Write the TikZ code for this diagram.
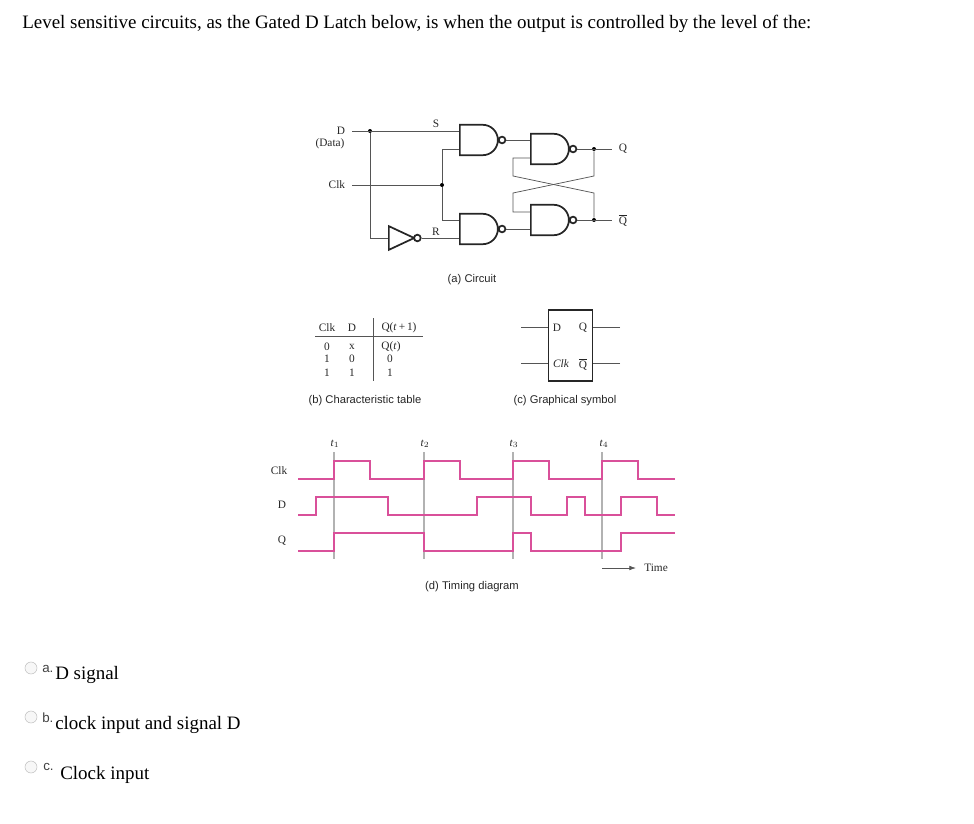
\documentclass[tikz,border=0pt]{standalone}
\usepackage{fontspec}
\setmainfont{Liberation Serif}
\setsansfont{Liberation Sans}
\usetikzlibrary{shapes.gates.logic.US,arrows.meta}
\definecolor{wave}{HTML}{D9509A}
\definecolor{wiregray}{HTML}{555555}
\begin{document}
\begin{tikzpicture}[
	x=0.75pt, y=-0.75pt,
	every node/.style={inner sep=0pt, black},
	question/.style={font=\fontsize{14.22pt}{16pt}\selectfont, anchor=west},
	letter/.style={font=\sffamily\fontsize{10pt}{12pt}\selectfont, text=black!75, anchor=west},
	radio/.style={draw=black!25, fill=black!3, circle, minimum size=9pt},
	label/.style={font=\fontsize{8.5pt}{10pt}\selectfont, text=black!85},
	caption/.style={font=\sffamily\fontsize{8.4pt}{10pt}\selectfont, text=black!85},
	nand/.style={nand gate US, anchor=west, draw=black!85, line width=1.3pt, logic gate inputs=nn,
				 logic gate input sep=6.8pt, minimum width=23pt, minimum height=20.5pt,
				 logic gate inverted radius=2.5pt},
	inv/.style={not gate US, anchor=west, draw=black!85, line width=1.3pt, minimum width=8pt, minimum height=10pt,
				logic gate input sep=2.5pt, logic gate inverted radius=2.5pt},
	wire/.style={draw=wiregray, line width=0.55pt},
	joint/.style={circle, fill=black, minimum size=3pt},
	tline/.style={draw=black!30, line width=1pt},
	pulse/.style={draw=wave, line width=1pt}
]
	\useasboundingbox (0,0) rectangle (974,824);

	\node (title) [question] at (22,24) {Level sensitive circuits, as the Gated D Latch below, is when the output is controlled by the level of the:};

	% circuit
	\node (g1) [nand] at (459,140) {};
	\node (g2) [nand] at (530,149) {};
	\node (g3) [nand] at (530,220) {};
	\node (g4) [nand] at (459,229) {};
	\node (not) [inv] at (388,238) {};
	\node (data) [label, anchor=east, inner xsep=5pt] at (352,131) {D};
	\node (dataword) [label] at (330,144) {(Data)};
	\node (clk) [label, anchor=east, inner xsep=5pt] at (352,185) {Clk};
	\node (s) [label] at (436,124) {S};
	\node (r) [label] at (436,232) {R};
	\node (qtext) [label] at (623,149) {Q};
	\node (qbar) [label] at (623,220) {$\overline{\mbox{Q}}$};
	\node (dd) [joint] at (370,131) {};
	\node (dc) [joint] at (442,185) {};
	\node (dq) [joint] at (594,149) {};
	\node (dqb) [joint] at (594,220) {};
	\coordinate (g1a) at (459,131);
	\coordinate (g1b) at (459,149);
	\coordinate (g2a) at (530,140);
	\coordinate (g2b) at (530,158);
	\coordinate (g3a) at (530,212);
	\coordinate (g3b) at (530,229);
	\coordinate (g4a) at (459,220);
	\coordinate (g4b) at (459,238);
	\coordinate (q2) at (612,149);
	\coordinate (qb2) at (612,220);
	\coordinate (x1) at (513,176);
	\coordinate (x2) at (594,193);
	\coordinate (x3) at (513,193);
	\coordinate (x4) at (594,176);
	\draw[wire] (data.east) -- (g1a);
	\draw[wire] (clk.east) -- (dc);
	\draw[wire] (dd) |- (not.input);
	\draw[wire] (g1b) -| (dc);
	\draw[wire] (g4a) -| (dc);
	\draw[wire] (not.output) -- (g4b);
	\draw[wire] (g1.output) -- (g2a);
	\draw[wire] (g4.output) -- (g3b);
	\draw[wire] (g2.output) -- (q2);
	\draw[wire] (g3.output) -- (qb2);
	\draw[wire] (g2b) -| (x1) -- (x2) -- (dqb);
	\draw[wire] (dq) -- (x4) -- (x3) |- (g3a);
	\node (capa) [caption] at (472,280) {(a) Circuit};

	% table
	\node (hclk) [label] at (327,328) {Clk};
	\node (hd) [label] at (352,328) {D};
	\node (hq) [label] at (399,328) {Q(\textit{t}\,+\,1)};
	\node (a0) [label] at (327,347) {0};
	\node (b0) [label] at (352,347) {x};
	\node (c0) [label] at (391,347) {Q(\textit{t})};
	\node (a1) [label] at (327,359) {1};
	\node (b1) [label] at (352,359) {0};
	\node (c1) [label] at (390,359) {0};
	\node (a2) [label] at (327,373) {1};
	\node (b2) [label] at (352,373) {1};
	\node (c2) [label] at (390,373) {1};
	\coordinate (tl) at (315,336);
	\coordinate (tr) at (423,336);
	\coordinate (tt) at (373,318);
	\coordinate (tb) at (373,381);
	\draw[wire] (tl) -- (tr);
	\draw[wire] (tt) -- (tb);
	\node (capb) [caption] at (365,401) {(b) Characteristic table};

	% symbol
	\node (latch) [draw=black!85, line width=1.3pt, minimum width=33pt, minimum height=53.5pt] at (570.5,345.5) {};
	\node (ld) [label] at (557,328) {D};
	\node (lq) [label] at (583,328) {Q};
	\node (lclk) [label] at (561,364) {\textit{Clk}};
	\node (lqb) [label] at (583,364) {$\overline{\mbox{Q}}$};
	\coordinate (p1) at (521,327);
	\coordinate (p2) at (521,363);
	\coordinate (p3) at (620,327);
	\coordinate (p4) at (620,363);
	\draw[wire] (p1) -- (p1 -| latch.west);
	\draw[wire] (p2) -- (p2 -| latch.west);
	\draw[wire] (p3) -- (p3 -| latch.east);
	\draw[wire] (p4) -- (p4 -| latch.east);
	\node (capc) [caption] at (565,401) {(c) Graphical symbol};

	% timing
	\draw[tline] (334,452) -- (334,559);
	\draw[tline] (424,452) -- (424,559);
	\draw[tline] (513,452) -- (513,559);
	\draw[tline] (602,452) -- (602,559);
	\draw[pulse] (298,479) -| (334,461) -| (370,479) -| (424,461) -| (460,479) -| (513,461) -| (549,479) -| (602,461) -| (638,479) -- (675,479);
	\draw[pulse] (298,515) -| (316,497) -| (388,515) -| (477,497) -| (531,515) -| (567,497) -| (585,515) -| (621,497) -| (657,515) -- (675,515);
	\draw[pulse] (298,551) -| (334,533) -| (424,551) -| (513,533) -| (531,551) -| (621,533) -- (675,533);
	\node (t1) [label] at (335,444) {\textit{t}$_1$};
	\node (t2) [label] at (425,444) {\textit{t}$_2$};
	\node (t3) [label] at (514,444) {\textit{t}$_3$};
	\node (t4) [label] at (604,444) {\textit{t}$_4$};
	\node (wclk) [label] at (279,471) {Clk};
	\node (wd) [label] at (282,505) {D};
	\node (wq) [label] at (282,541) {Q};
	\node (time) [label, anchor=west] at (644,568) {Time};
	\coordinate (tstart) at (602,568);
	\draw[wire, -{Latex[length=5pt,width=3.5pt]}] (tstart) -- (636,568);
	\node (capd) [caption] at (472,587) {(d) Timing diagram};

	% answers
	\node (ra) [radio] at (31,668) {};
	\node (rb) [radio] at (31,717) {};
	\node (rc) [radio] at (31,767) {};
	\node (la) [letter] at (42,669) {a.};
	\node (lb) [letter] at (42,718) {b.};
	\node (lc) [letter] at (43,767) {c.};
	\node (ta) [question] at (55,675) {D signal};
	\node (tb2) [question] at (55,725) {clock input and signal D};
	\node (tc) [question] at (60,775) {Clock input};
\end{tikzpicture}
\end{document}
